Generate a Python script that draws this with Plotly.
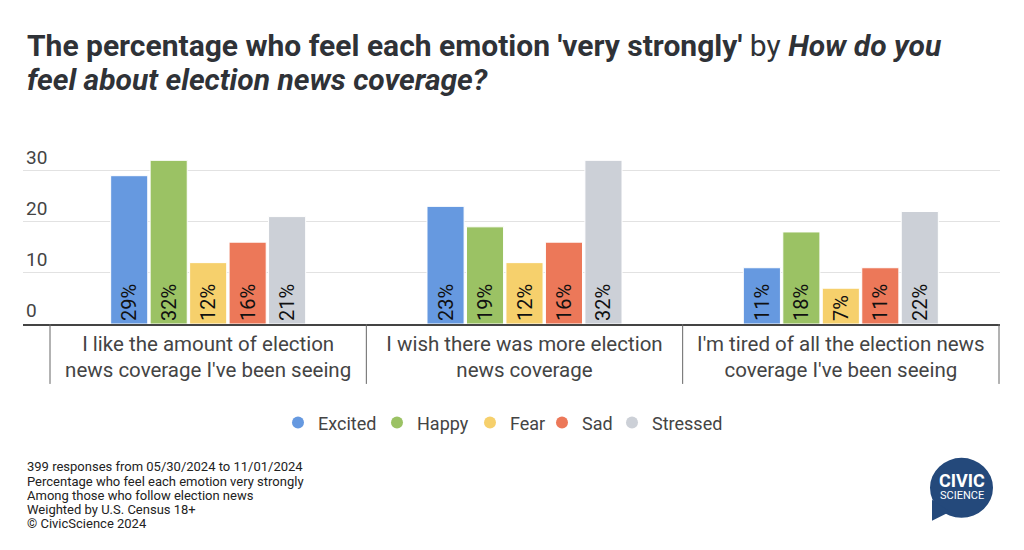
import plotly.graph_objects as go

categories = ["I like the amount of election<br>news coverage I've been seeing",
              "I wish there was more election<br>news coverage",
              "I'm tired of all the election news<br>coverage I've been seeing"]
series_names = ["Excited", "Happy", "Fear", "Sad", "Stressed"]
excited = [29, 23, 11]
happy = [32, 19, 18]
fear = [12, 12, 7]
sad = [16, 16, 11]
stressed = [21, 32, 22]
values = [excited, happy, fear, sad, stressed]
colors = ["#6699e0", "#9bc264", "#f6d06c", "#ec7859", "#ccd0d7"]
y_ticks = [0, 10, 20, 30]
title_line1 = "<b>The percentage who feel each emotion 'very strongly'</b> by <b><i>How do you</i></b>"
title_line2 = "<b><i>feel about election news coverage?</i></b>"
footer_lines = ["399 responses from 05/30/2024 to 11/01/2024",
                "Percentage who feel each emotion very strongly",
                "Among those who follow election news",
                "Weighted by U.S. Census 18+",
                "\u00a9 CivicScience 2024"]

W, H = 1024, 550
Y_MAX = 35
L, R, B = 23, 1000, 324
PX_PER_UNIT = 5.12
T = B - Y_MAX * PX_PER_UNIT
def px(x):
    return (x - L) / (R - L)
def py(y):
    return (B - y) / (B - T)

legend_centers = [298, 397, 490, 562, 632]

xpos = list(range(len(categories)))
fig = go.Figure()
for i, (name, vals, col) in enumerate(zip(series_names, values, colors)):
    fig.add_trace(go.Bar(
        x=xpos, y=vals, name=name, marker_color=col,
        marker_line=dict(color="white", width=1),
        text=[f"{v}%" for v in vals], textposition="inside",
        insidetextanchor="start", textangle=-90,
        textfont=dict(family="Roboto", size=20, color="#111111"),
        showlegend=False, hoverinfo="skip"))
    lg = "legend" if i == 0 else f"legend{i + 1}"
    fig.add_trace(go.Scatter(
        x=[None], y=[None], mode="markers", name=name, legend=lg,
        marker=dict(symbol="circle", size=17, color=col)))

cat_w = (999 - 50) / 3.0
x_left = -0.5 - (50 - L) / cat_w
x_right = 2.5 + (R - 999) / cat_w

shapes = []
for s in [-0.5, 0.5, 1.5, 2.5]:
    shapes.append(dict(type="line", xref="x", yref="paper", x0=s, x1=s,
                       y0=0, y1=py(384), line=dict(color="#666666", width=1)))
# logo
logo_col = "#24497b"
shapes.append(dict(type="circle", xref="paper", yref="paper",
                   x0=px(930), x1=px(993), y0=py(518), y1=py(458),
                   fillcolor=logo_col, line=dict(width=0), layer="above"))
tri = [(932, 500), (950, 512), (932, 521)]
path = "M {} {} L {} {} L {} {} Z".format(*[v for p in tri for v in (px(p[0]), py(p[1]))])
shapes.append(dict(type="path", xref="paper", yref="paper", path=path,
                   fillcolor=logo_col, line=dict(width=0), layer="above"))

annotations = [
    dict(text=title_line1, xref="paper", yref="paper", x=px(25), y=py(45),
         xanchor="left", yanchor="middle", showarrow=False,
         font=dict(family="Roboto", size=30, color="#2f3237")),
    dict(text=title_line2, xref="paper", yref="paper", x=px(25), y=py(79),
         xanchor="left", yanchor="middle", showarrow=False,
         font=dict(family="Roboto", size=30, color="#2f3237")),
    dict(text="<b>CIVIC</b>", xref="paper", yref="paper", x=px(962), y=py(481),
         xanchor="center", yanchor="middle", showarrow=False,
         font=dict(family="Roboto", size=18, color="white")),
    dict(text="SCIENCE", xref="paper", yref="paper", x=px(962), y=py(496),
         xanchor="center", yanchor="middle", showarrow=False,
         font=dict(family="Roboto", size=11, color="white")),
]
for k, line in enumerate(footer_lines):
    annotations.append(dict(text=line, xref="paper", yref="paper",
                            x=px(25), y=py(467 + 14.3 * k), xanchor="left",
                            yanchor="middle", showarrow=False,
                            font=dict(family="Roboto", size=13, color="#222222")))

legend_common = dict(orientation="h", xanchor="left", yanchor="middle",
                     font=dict(family="Roboto", size=18, color="#444444"),
                     itemsizing="constant", bgcolor="rgba(0,0,0,0)")
legends = {}
for i, c in enumerate(legend_centers):
    key = "legend" if i == 0 else f"legend{i + 1}"
    legends[key] = dict(legend_common, x=px(c - 20), y=py(423))

fig.update_layout(
    width=W, height=H,
    margin=dict(l=L, r=W - R, t=T, b=H - B, pad=0),
    paper_bgcolor="white", plot_bgcolor="white",
    barmode="group", bargap=0.376, bargroupgap=0.06,
    uniformtext=dict(minsize=20, mode="show"),
    font=dict(family="Roboto", color="#444444"),
    xaxis=dict(range=[x_left, x_right], tickmode="array", tickvals=xpos,
               ticktext=categories, showgrid=False, zeroline=False,
               showline=True, linecolor="#444444", linewidth=2,
               ticks="", tickfont=dict(family="Roboto", size=20.5, color="#444444")),
    yaxis=dict(range=[0, Y_MAX], tickmode="array", tickvals=y_ticks,
               ticklabelposition="inside top", showgrid=True,
               gridcolor="#e2e2e2", gridwidth=1, zeroline=False,
               showline=False, ticks="",
               tickfont=dict(family="Roboto", size=19, color="#444444")),
    shapes=shapes, annotations=annotations,
    **legends,
)
fig.write_html("out.html")
